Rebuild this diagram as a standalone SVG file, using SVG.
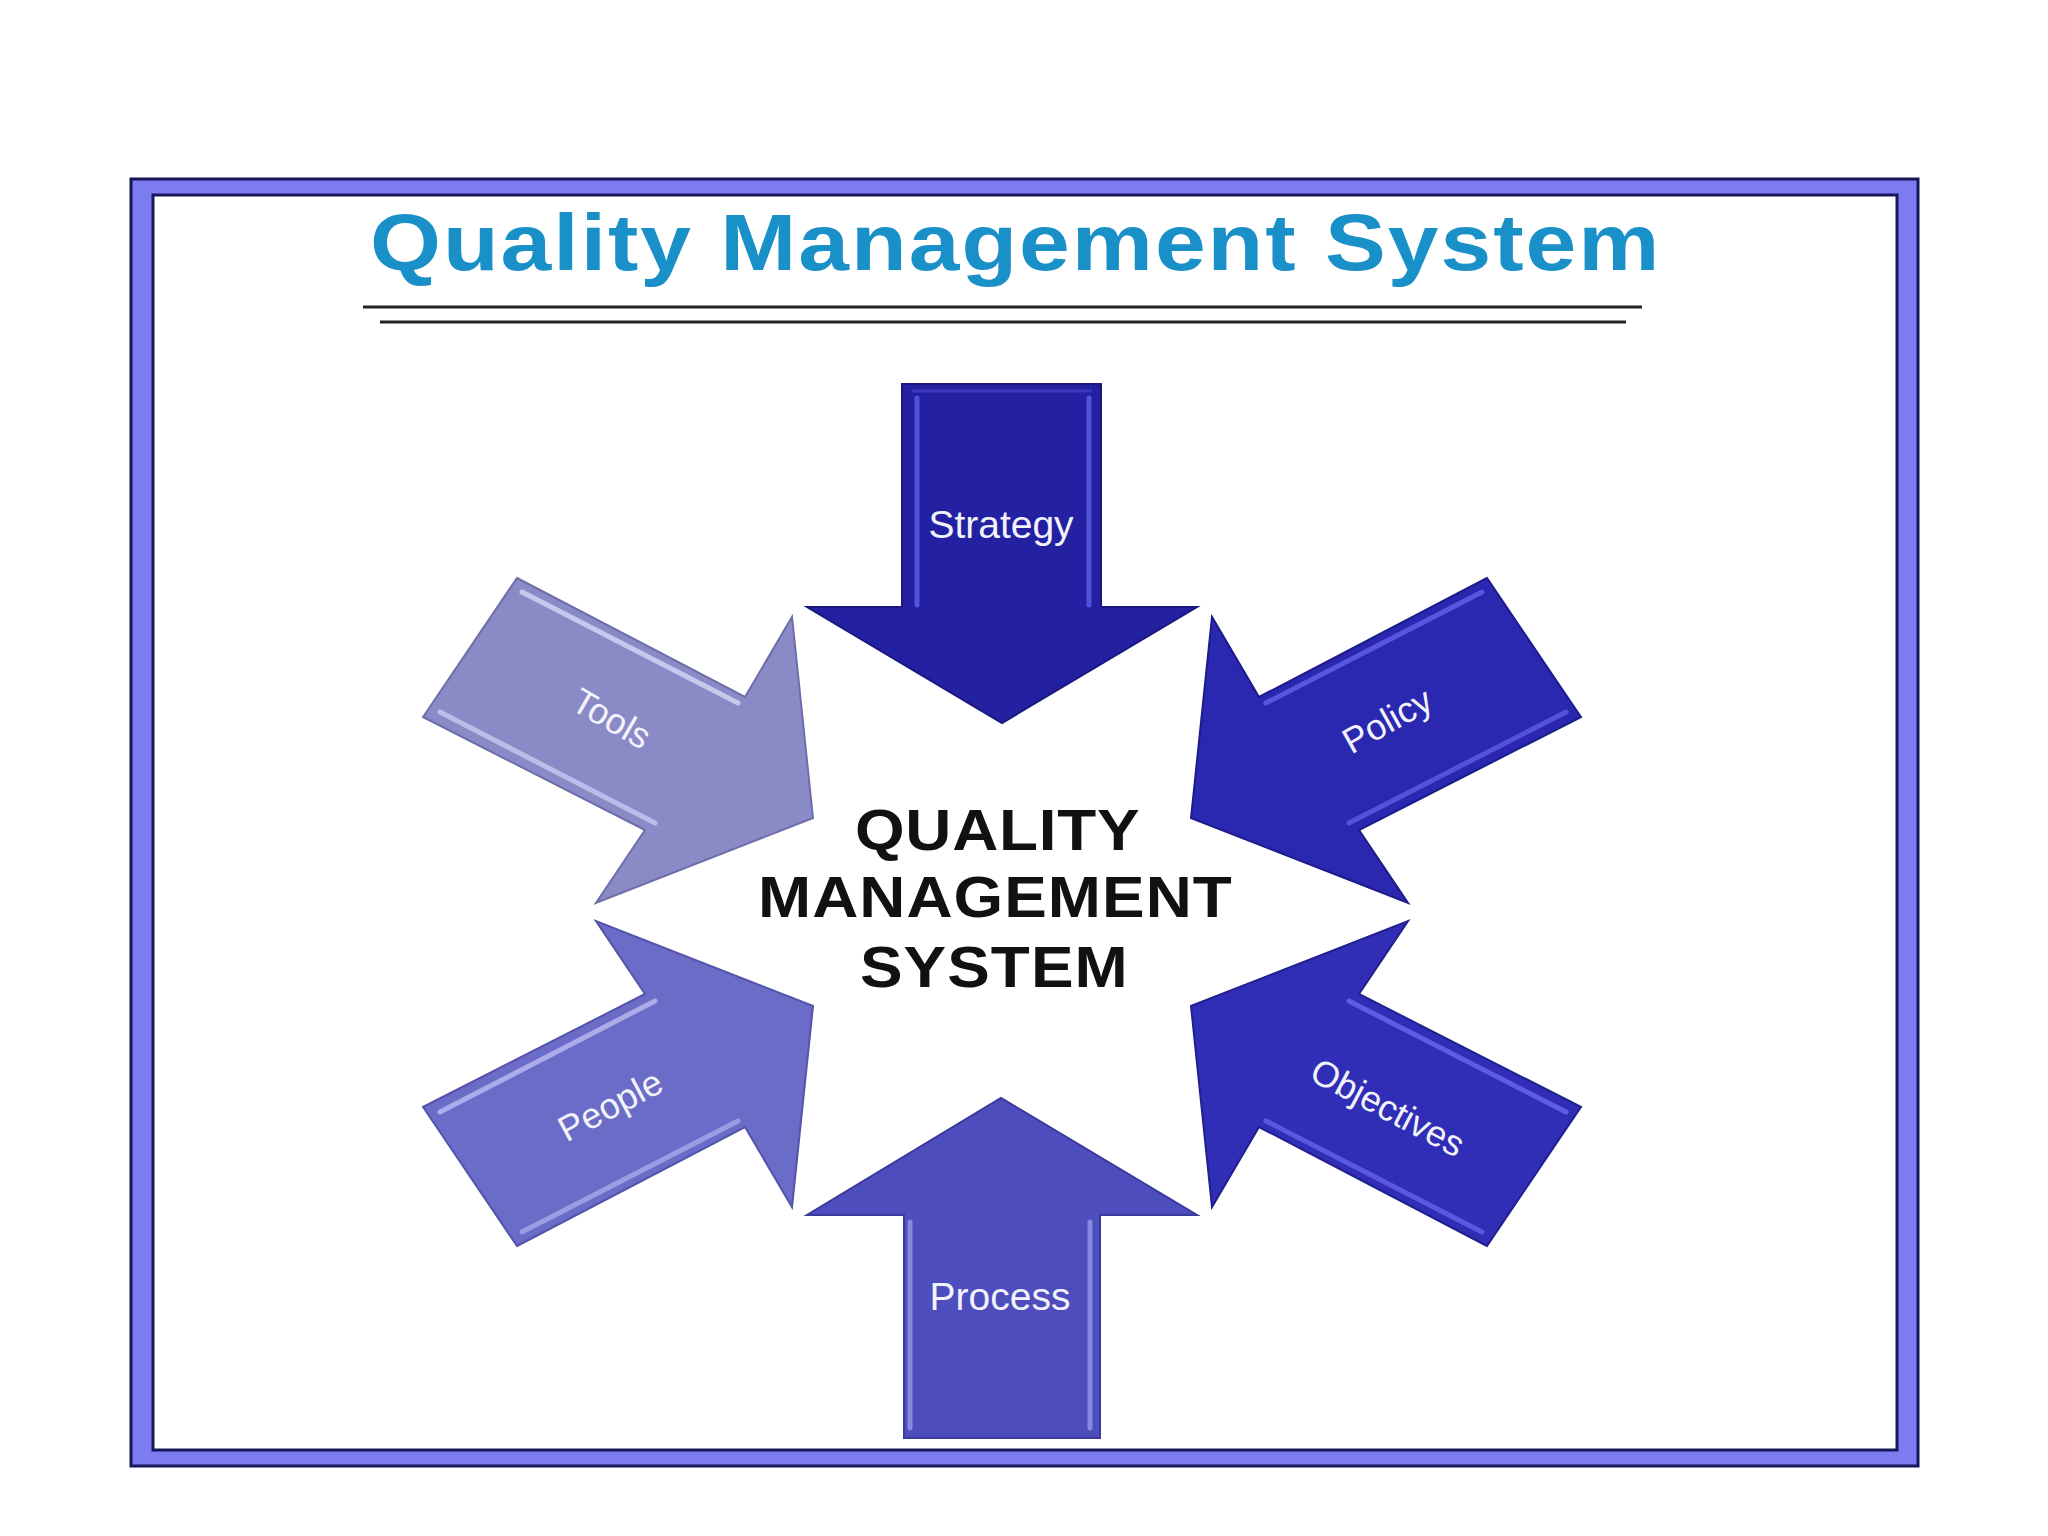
<svg xmlns="http://www.w3.org/2000/svg" width="2048" height="1536" viewBox="0 0 2048 1536">
  <style>
    .title { font-family: "Liberation Sans", Arial, sans-serif; font-weight: bold; font-size: 80px; fill: #1a90c8; }
    .center { font-family: "Liberation Sans", Arial, sans-serif; font-weight: bold; font-size: 57px; fill: #111111; }
    .lbl { font-family: "Liberation Sans", Arial, sans-serif; font-size: 39px; fill: #f2f2fa; text-anchor: middle; }
    .lbls { font-family: "Liberation Sans", Arial, sans-serif; font-size: 36px; fill: #f2f2fa; text-anchor: middle; }
    .hl { fill: none; stroke-width: 5; stroke-linecap: round; }
    .rule { stroke: #222222; stroke-width: 3; }
  </style>
  <rect x="0" y="0" width="2048" height="1536" fill="#ffffff"/>

  <g id="frame">
    <rect x="131" y="179" width="1787" height="1287" fill="#7c7cf0" stroke="#16165a" stroke-width="3"/>
    <rect x="153" y="195" width="1744" height="1255" fill="#ffffff" stroke="#16165a" stroke-width="3"/>
  </g>

  <g id="title">
    <text class="title" transform="translate(370,270) scale(1.14,1)" x="0" y="0" textLength="1131" lengthAdjust="spacing">Quality Management System</text>
    <line class="rule" x1="363" y1="307" x2="1642" y2="307"/>
    <line class="rule" x1="380" y1="322" x2="1626" y2="322"/>
  </g>

  <g id="connectors"></g>

  <g id="strategy">
    <polygon points="902,384 1101,384 1101,607 1197,607 1002,723 807,607 902,607" fill="#2320a2" stroke="#1a1880" stroke-width="2"/>
    <line class="hl" x1="917" y1="398" x2="917" y2="605" stroke="#5452da"/>
    <line class="hl" x1="1089" y1="398" x2="1089" y2="605" stroke="#5452da"/>
    <line x1="912" y1="391" x2="1092" y2="391" stroke="#3a38c0" stroke-width="3"/>
    <text class="lbl" x="1001" y="538">Strategy</text>
  </g>

  <g id="tools">
    <polygon points="517,578 745,697 792,617 813,818 596,903 645,830 423,717" fill="#8a8ac6" stroke="#6e6eaa" stroke-width="2"/>
    <line class="hl" x1="522" y1="592" x2="738" y2="703" stroke="#c8c8ee"/>
    <line class="hl" x1="440" y1="712" x2="655" y2="823" stroke="#bcbcea"/>
    <text class="lbls" transform="translate(612,718) rotate(30)" x="0" y="13">Tools</text>
  </g>

  <g id="policy">
    <polygon points="1487,578 1259,697 1212,617 1191,818 1408,903 1359,830 1581,717" fill="#2a27b0" stroke="#1e1c8a" stroke-width="2"/>
    <line class="hl" x1="1482" y1="592" x2="1266" y2="703" stroke="#5856e0"/>
    <line class="hl" x1="1566" y1="712" x2="1349" y2="823" stroke="#5452da"/>
    <text class="lbls" transform="translate(1387,720) rotate(-29)" x="0" y="13">Policy</text>
  </g>

  <g id="people">
    <polygon points="517,1246 745,1127 792,1207 813,1006 596,921 645,994 423,1107" fill="#6b6bc8" stroke="#5454aa" stroke-width="2"/>
    <line class="hl" x1="440" y1="1112" x2="655" y2="1001" stroke="#acacea"/>
    <line class="hl" x1="522" y1="1232" x2="738" y2="1121" stroke="#9c9ce4"/>
    <text class="lbls" transform="translate(610,1105) rotate(-28)" x="0" y="13">People</text>
  </g>

  <g id="objectives">
    <polygon points="1487,1246 1259,1127 1212,1207 1191,1006 1408,921 1359,994 1581,1107" fill="#302db6" stroke="#22208e" stroke-width="2"/>
    <line class="hl" x1="1566" y1="1112" x2="1349" y2="1001" stroke="#5e5ce4"/>
    <line class="hl" x1="1482" y1="1232" x2="1266" y2="1121" stroke="#5a58e0"/>
    <text class="lbls" transform="translate(1388,1107) rotate(28)" x="0" y="13">Objectives</text>
  </g>

  <g id="process">
    <polygon points="904,1438 1100,1438 1100,1215 1197,1215 1001,1098 807,1215 904,1215" fill="#4d4dbd" stroke="#3a3a9c" stroke-width="2"/>
    <line class="hl" x1="910" y1="1222" x2="910" y2="1428" stroke="#8888e2"/>
    <line class="hl" x1="1090" y1="1222" x2="1090" y2="1428" stroke="#8888e2"/>
    <text class="lbl" x="1000" y="1310">Process</text>
  </g>

  <g id="center-label">
    <text class="center" transform="translate(855,850) scale(1.12,1)" x="0" y="0" textLength="254" lengthAdjust="spacing">QUALITY</text>
    <text class="center" transform="translate(758,917) scale(1.12,1)" x="0" y="0" textLength="423" lengthAdjust="spacing">MANAGEMENT</text>
    <text class="center" transform="translate(860,987) scale(1.12,1)" x="0" y="0" textLength="239" lengthAdjust="spacing">SYSTEM</text>
  </g>
</svg>
